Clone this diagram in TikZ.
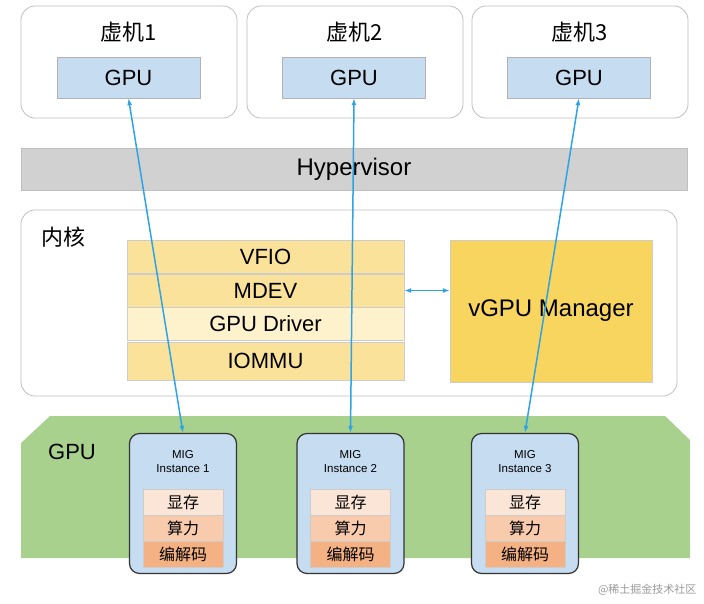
\documentclass[tikz,border=0pt]{standalone}
\usepackage{fontspec}
\setmainfont{Liberation Sans}
\newfontfamily\cjk{Noto Sans CJK SC}
\definecolor{arr}{HTML}{2EA3E6}
\definecolor{gpub}{HTML}{C6DCF0}
\definecolor{stk}{HTML}{FBE29B}
\definecolor{drv}{HTML}{FDF2CC}
\definecolor{vgm}{HTML}{F8D55E}
\definecolor{grn}{HTML}{A9D18E}
\definecolor{r1}{HTML}{FBE5D6}
\definecolor{r2}{HTML}{F8CBAD}
\definecolor{r3}{HTML}{F4B183}
\tikzset{
  box/.style={draw=black!25, line width=0.8pt, rounded corners=14pt},
  vgpu/.style={draw=black!30, fill=gpub, minimum width=143pt, minimum height=41pt, font=\fontsize{22}{24}\selectfont},
  layer/.style={draw=black!20, fill=stk, minimum width=277pt, minimum height=33pt, font=\fontsize{22}{24}\selectfont},
  mig/.style={draw=black!80, fill=gpub, line width=1.2pt, rounded corners=10pt, minimum width=107pt, minimum height=140pt},
  row/.style={draw=white!80!black, minimum width=80pt, minimum height=26pt, font=\cjk\fontsize{16}{18}\selectfont},
  link/.style={<->, >={Latex[length=7pt,width=5pt]}, draw=arr, line width=1.5pt},
}
\usetikzlibrary{arrows.meta}
\begin{document}
\begin{tikzpicture}[x=1pt,y=-1pt]
\useasboundingbox (0,0) rectangle (704,603);
% virtual machines
\foreach \i/\x in {1/21,2/247,3/472}{
  \draw[box] (\x,6) rectangle ++(216,112);
  \node[font=\cjk\fontsize{22}{24}\selectfont] (t\i) at (\x+108,32) {虚机\i};
}
\node[vgpu] (g1) at (128.5,77.5) {GPU};
\node[vgpu] (g2) at (354,77.5) {GPU};
\node[vgpu] (g3) at (579,77.5) {GPU};
% hypervisor
\node[fill=black!18, draw=black!25, minimum width=666pt, minimum height=42pt, font=\fontsize{24}{26}\selectfont] (hv) at (354,169) {Hypervisor};
% kernel
\draw[box] (21,210) rectangle (677,396);
\node[font=\cjk\fontsize{22}{24}\selectfont] (kn) at (63,237) {内核};
\node[layer] (vfio) at (265.5,257) {VFIO};
\node[layer] (mdev) at (265.5,290.5) {MDEV};
\node[layer, fill=drv] (drv) at (265.5,324) {GPU Driver};
\node[layer, minimum height=38pt] (iommu) at (265.5,361) {IOMMU};
\node[draw=black!20, fill=vgm, minimum width=202pt, minimum height=142pt, font=\fontsize{24}{26}\selectfont] (vm) at (551,311) {vGPU Manager};
\draw[link] (mdev.east) -- (vm.west |- mdev.east);
% physical GPU
\fill[grn] (50,416) -- (665,416) -- (690,440) -- (690,558) -- (21,558) -- (21,443) -- cycle;
\node[font=\fontsize{22}{24}\selectfont] (gl) at (72,452) {GPU};
\foreach \i/\x in {1/183,2/350.5,3/525}{
  \node[mig] (m\i) at (\x,503.5) {};
  \node[font=\fontsize{11.5}{14}\selectfont, align=center] (mt\i) at (\x,462) {MIG\\Instance \i};
  \node[row, fill=r1] (a\i) at (\x,502.5) {显存};
  \node[row, fill=r2] (b\i) at (\x,528.5) {算力};
  \node[row, fill=r3] (c\i) at (\x,554.5) {编解码};
}
\draw[link] (g1.south) -- (m1.north);
\draw[link] (g2.south) -- (m2.north);
\draw[link] (g3.south) -- (m3.north);
\node[text=black!40, font=\cjk\fontsize{11}{13}\selectfont, anchor=east] (wm) at (700,590) {@稀土掘金技术社区};
\end{tikzpicture}
\end{document}
